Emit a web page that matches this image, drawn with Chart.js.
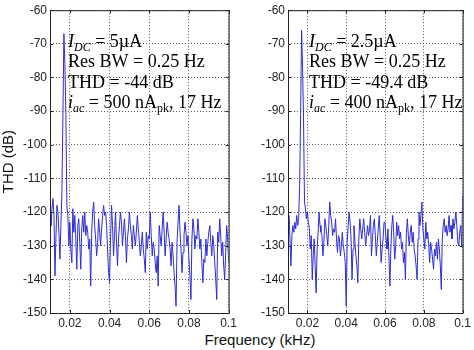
<!DOCTYPE html>
<html>
<head>
<meta charset="utf-8">
<script src="https://cdn.jsdelivr.net/npm/chart.js@4.4.0/dist/chart.umd.min.js"></script>
<style>
  body { margin: 0; background: #fff; width: 474px; height: 350px; position: relative; overflow: hidden; }
  canvas { position: absolute; top: 0; }
  #xTitle { position: absolute; left: 0; width: 520px; top: 331px; text-align: center;
            font: 15px "Liberation Sans", Arial, sans-serif; color: #111; }
</style>
</head>
<body>
<canvas id="leftChart" width="240" height="330" style="left:0"></canvas>
<canvas id="rightChart" width="234" height="330" style="left:240px"></canvas>
<div id="xTitle">Frequency (kHz)</div>
<script>
// spectrum bins: 10 Hz to 100 Hz, 0.5 Hz apart
const binStartHz = 10;
const binStepHz = 0.5;

// THD spectrum (dB), I_DC = 5 uA
const thd5uA = [
  -121,-124,-119,-116,-121,-139,-127,-118,-120,-126,
  -134,-124,-114,-92,-67,-76,-91,-118,-121,-130,
  -123,-131,-135,-119,-126,-121,-128,-137,-124,-122,
  -129,-137,-125,-121,-126,-120,-127,-124,-126,-131,
  -128,-142,-126,-120,-117,-124,-128,-133,-129,-122,
  -126,-130,-125,-121,-118,-121,-120,-124,-131,-138,
  -141,-128,-118,-124,-133,-127,-120,-129,-136,-128,
  -124,-120,-123,-130,-126,-122,-127,-135,-128,-125,
  -120,-124,-127,-131,-124,-127,-130,-126,-121,-125,
  -129,-133,-130,-126,-131,-134,-138,-126,-131,-127,
  -128,-120,-127,-133,-129,-131,-135,-138,-133,-142,
  -124,-127,-130,-125,-120,-126,-133,-128,-123,-126,
  -128,-131,-136,-129,-133,-138,-142,-148,-129,-123,
  -118,-126,-131,-138,-132,-127,-123,-126,-130,-127,
  -134,-139,-146,-128,-122,-125,-131,-127,-128,-122,
  -126,-131,-128,-135,-141,-134,-135,-128,-133,-129,
  -126,-124,-129,-133,-127,-130,-135,-140,-146,-126,
  -129,-122,-127,-133,-129,-136,-140,-132,-124,-128,
  -135
];

// THD spectrum (dB), I_DC = 2.5 uA
const thd2_5uA = [
  -124,-121,-128,-136,-127,-124,-126,-123,-125,-121,
  -124,-122,-112,-91,-66,-77,-92,-117,-119,-122,
  -120,-123,-125,-131,-127,-140,-133,-128,-136,-144,
  -131,-126,-120,-124,-126,-127,-133,-129,-122,-124,
  -127,-130,-124,-117,-121,-123,-127,-125,-126,-122,
  -128,-132,-127,-128,-133,-130,-126,-130,-132,-135,
  -148,-129,-124,-120,-123,-128,-140,-131,-124,-129,
  -133,-136,-141,-128,-122,-125,-128,-125,-122,-126,
  -130,-127,-124,-127,-125,-121,-133,-128,-124,-122,
  -127,-133,-129,-125,-121,-127,-135,-131,-128,-123,
  -123,-128,-131,-125,-133,-142,-131,-124,-121,-127,
  -134,-130,-123,-127,-124,-128,-126,-131,-129,-135,
  -132,-140,-126,-122,-127,-130,-126,-124,-129,-126,
  -131,-133,-136,-140,-128,-120,-124,-121,-117,-125,
  -128,-131,-123,-128,-126,-130,-135,-129,-131,-134,
  -137,-131,-133,-129,-134,-128,-131,-136,-143,-128,
  -124,-122,-126,-124,-127,-125,-121,-126,-124,-128,
  -122,-125,-123,-120,-124,-129,-130,-126,-124,-130,
  -115
];

const xTicks = [0.02, 0.04, 0.06, 0.08, 0.1];

const noteLeft = [
  [['I', 'i'], ['DC', 'si'], [' = 5\u00b5A', '']],
  [['Res BW = 0.25 Hz', '']],
  [['THD = -44 dB', '']],
  [['i', 'i'], ['ac', 'si'], [' = 500 nA', ''], ['pk', 's'], [', 17 Hz', '']]
];
const noteRight = [
  [['I', 'i'], ['DC', 'si'], [' = 2.5\u00b5A', '']],
  [['Res BW = 0.25 Hz', '']],
  [['THD = -49.4 dB', '']],
  [['i', 'i'], ['ac', 'si'], [' = 400 nA', ''], ['pk', 's'], [', 17 Hz', '']]
];

const toPoints = vals => vals.map((v, i) => ({ x: (binStartHz + i * binStepHz) / 1000, y: v }));

// box round the plot with small inward ticks, matlab style
const framePlugin = {
    id: 'frame',
    afterDatasetsDraw(chart) {
        const { ctx, chartArea: a, scales } = chart;
        ctx.save();
        ctx.strokeStyle = '#222';
        ctx.lineWidth = 1;
        ctx.beginPath();
        scales.y.ticks.forEach(t => {
            const y = Math.round(scales.y.getPixelForValue(t.value)) + 0.5;
            ctx.moveTo(a.left, y); ctx.lineTo(a.left + 3, y);
            ctx.moveTo(a.right, y); ctx.lineTo(a.right - 3, y);
        });
        scales.x.ticks.forEach(t => {
            const x = Math.round(scales.x.getPixelForValue(t.value)) + 0.5;
            ctx.moveTo(x, a.bottom); ctx.lineTo(x, a.bottom - 3);
            ctx.moveTo(x, a.top); ctx.lineTo(x, a.top + 3);
        });
        ctx.stroke();
        ctx.strokeRect(a.left + 0.5, a.top + 0.5, a.right - a.left, a.bottom - a.top);
        ctx.restore();
    }
};

const notePlugin = {
    id: 'note',
    afterDraw(chart, args, opts) {
        const ctx = chart.ctx;
        ctx.save();
        ctx.fillStyle = '#000';
        ctx.textBaseline = 'alphabetic';
        opts.lines.forEach((line, i) => {
            let x = opts.x;
            const y = opts.y + i * opts.gap;
            line.forEach(([txt, style]) => {
                const small = style.includes('s');
                const italic = style.includes('i');
                ctx.font = `${italic ? 'italic ' : ''}${small ? 12 : 18}px "Liberation Serif", "Times New Roman", serif`;
                ctx.fillText(txt, x, small ? y + 4 : y);
                x += ctx.measureText(txt).width;
            });
        });
        ctx.restore();
    }
};

const makeChart = (id, values, axisWidth, rightPad, noteX, lines, yTitle) => {
    const ctx = document.getElementById(id).getContext('2d');
    return new Chart(ctx, {
        type: 'line',
        data: {
            datasets: [{
                data: toPoints(values),
                borderColor: 'rgb(45, 45, 215)',
                borderWidth: 1,
                pointRadius: 0,
                tension: 0,
                fill: false
            }]
        },
        options: {
            responsive: false,
            devicePixelRatio: 1,
            animation: false,
            events: [],
            layout: { padding: { top: 5, right: rightPad, left: 0, bottom: 0 } },
            plugins: {
                legend: { display: false },
                tooltip: { enabled: false },
                note: { lines: lines, x: noteX, y: 47, gap: 20.3 }
            },
            scales: {
                x: {
                    type: 'linear',
                    min: 0.01,
                    max: 0.1,
                    afterBuildTicks: s => { s.ticks = xTicks.map(v => ({ value: v })); },
                    afterFit: s => { s.height = 17; },
                    grid: { color: '#555', drawTicks: false },
                    border: { display: false, dash: [1, 2] },
                    ticks: {
                        padding: 3,
                        color: '#222',
                        font: { family: '"Liberation Sans", Arial', size: 12 },
                        maxRotation: 0,
                        callback: v => String(+v.toFixed(2))
                    }
                },
                y: {
                    min: -150,
                    max: -60,
                    afterFit: s => { s.width = axisWidth; },
                    grid: { color: '#555', drawTicks: false },
                    border: { display: false, dash: [1, 2] },
                    ticks: {
                        stepSize: 10,
                        padding: 3,
                        color: '#222',
                        font: { family: '"Liberation Sans", Arial', size: 12 }
                    },
                    title: {
                        display: yTitle,
                        text: 'THD (dB)',
                        color: '#111',
                        padding: 0,
                        font: { family: '"Liberation Sans", Arial', size: 15 }
                    }
                }
            }
        },
        plugins: [framePlugin, notePlugin]
    });
};

makeChart('leftChart', thd5uA, 50, 10, 68, noteLeft, true);
makeChart('rightChart', thd2_5uA, 48, 7, 69, noteRight, false);
</script>
</body>
</html>
